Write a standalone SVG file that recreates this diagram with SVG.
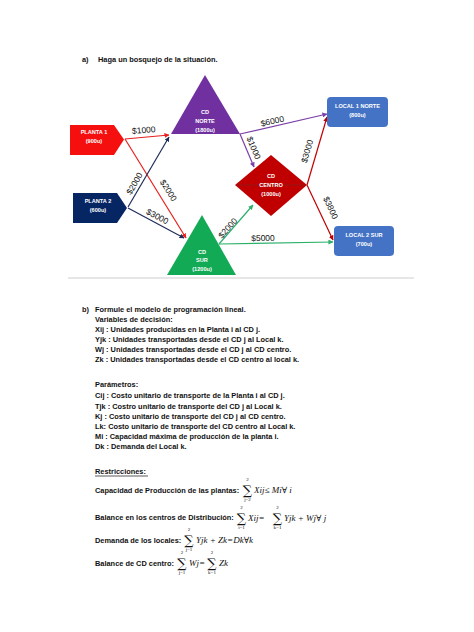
<svg xmlns="http://www.w3.org/2000/svg" width="474" height="632" viewBox="0 0 474 632">
<defs>
<style>
.t{font-family:"Liberation Sans",Arial,sans-serif;font-weight:bold;font-size:7.4px;fill:#111}
.n{font-family:"Liberation Sans",Arial,sans-serif;font-weight:bold;font-size:5.6px;fill:#fff;text-anchor:middle}
.lb{font-family:"Liberation Sans",Arial,sans-serif;font-size:8.5px;fill:#111;text-anchor:middle}
.m{font-family:"Liberation Serif","DejaVu Serif",serif;font-style:italic;font-size:9px;fill:#111}
.s{font-family:"DejaVu Serif","Liberation Serif",serif;font-size:13px;fill:#111;text-anchor:middle}
.sm{font-family:"Liberation Serif",serif;font-size:5px;fill:#111;text-anchor:middle}
.c{fill:none;stroke-width:1.2}
</style>
<marker id="aR" viewBox="0 0 6 6" refX="5.5" refY="3" markerWidth="5" markerHeight="5" markerUnits="userSpaceOnUse" orient="auto"><path d="M0,0L6,3L0,6z" fill="#E8201F"/></marker>
<marker id="aN" viewBox="0 0 6 6" refX="5.5" refY="3" markerWidth="5" markerHeight="5" markerUnits="userSpaceOnUse" orient="auto"><path d="M0,0L6,3L0,6z" fill="#1F2D5A"/></marker>
<marker id="aP" viewBox="0 0 6 6" refX="5.5" refY="3" markerWidth="5" markerHeight="5" markerUnits="userSpaceOnUse" orient="auto"><path d="M0,0L6,3L0,6z" fill="#7B3FA8"/></marker>
<marker id="aC" viewBox="0 0 6 6" refX="5.5" refY="3" markerWidth="5" markerHeight="5" markerUnits="userSpaceOnUse" orient="auto"><path d="M0,0L6,3L0,6z" fill="#C00000"/></marker>
<marker id="aG" viewBox="0 0 6 6" refX="5.5" refY="3" markerWidth="5" markerHeight="5" markerUnits="userSpaceOnUse" orient="auto"><path d="M0,0L6,3L0,6z" fill="#2DB06A"/></marker>
</defs>
<rect width="474" height="632" fill="#fff"/>

<text class="t" x="82" y="61.5">a)</text>
<text class="t" x="98" y="61.5">Haga un bosquejo de la situación.</text>

<rect x="68" y="277" width="346" height="2" fill="#e6e6e6"/>

<g id="connectors">
<line class="c" stroke="#E8201F" x1="125" y1="139" x2="169" y2="135" marker-end="url(#aR)"/>
<line class="c" stroke="#E8201F" x1="125" y1="139" x2="186" y2="238" marker-end="url(#aR)"/>
<line class="c" stroke="#1F2D5A" x1="128" y1="207" x2="169" y2="137" marker-end="url(#aN)"/>
<line class="c" stroke="#1F2D5A" x1="128" y1="208" x2="184" y2="238" marker-end="url(#aN)"/>
<line class="c" stroke="#7B3FA8" x1="240" y1="134" x2="327" y2="114" marker-end="url(#aP)"/>
<line class="c" stroke="#7B3FA8" x1="240" y1="134" x2="254" y2="167" marker-end="url(#aP)"/>
<line class="c" stroke="#C00000" x1="307" y1="185" x2="327" y2="117" marker-end="url(#aC)"/>
<line class="c" stroke="#C00000" x1="307" y1="185" x2="333" y2="240" marker-end="url(#aC)"/>
<line class="c" stroke="#2DB06A" x1="219" y1="244" x2="253" y2="205" marker-end="url(#aG)"/>
<line class="c" stroke="#2DB06A" x1="219" y1="244" x2="333" y2="242" marker-end="url(#aG)"/>
<text class="lb" transform="translate(144,133) rotate(-5)">$1000</text>
<text class="lb" transform="translate(166,192) rotate(57)">$2000</text>
<text class="lb" transform="translate(137,185) rotate(-60)">$2000</text>
<text class="lb" transform="translate(156,219) rotate(28)">$3000</text>
<text class="lb" transform="translate(273,124) rotate(-13)">$6000</text>
<text class="lb" transform="translate(251,149) rotate(68)">$1000</text>
<text class="lb" transform="translate(310,152) rotate(-74)">$3000</text>
<text class="lb" transform="translate(328,209) rotate(65)">$3800</text>
<text class="lb" transform="translate(230,230) rotate(-49)">$2000</text>
<text class="lb" transform="translate(263,241) rotate(-1)">$5000</text>
</g>

<g id="planta1">
<path d="M70,125L114,125L124,139.5L114,155L70,155Z" fill="#F50F0F"/>
<text class="n" x="94" y="134">PLANTA 1</text>
<text class="n" x="94" y="143">(900u)</text>
</g>
<g id="planta2">
<path d="M73,193L117,193L127,208L117,223L73,223Z" fill="#062563"/>
<text class="n" x="98" y="203">PLANTA 2</text>
<text class="n" x="98" y="212">(600u)</text>
</g>
<g id="cdnorte">
<path d="M205,75L240,134L171,134Z" fill="#7030A0"/>
<text class="n" x="205" y="114">CD</text>
<text class="n" x="205" y="123">NORTE</text>
<text class="n" x="205" y="132">(1800u)</text>
</g>
<g id="cdsur">
<path d="M202,215L236,275L167,275Z" fill="#12AA55"/>
<text class="n" x="202" y="254">CD</text>
<text class="n" x="202" y="262">SUR</text>
<text class="n" x="202" y="271">(1200u)</text>
</g>
<g id="cdcentro">
<path d="M271,155L307,185L271,216L235,185Z" fill="#C00000"/>
<line x1="236" y1="185" x2="306" y2="185" stroke="#7a2a2a" stroke-width="0.8" opacity="0.7"/>
<text class="n" x="271" y="178">CD</text>
<text class="n" x="271" y="187">CENTRO</text>
<text class="n" x="271" y="196">(1000u)</text>
</g>
<g id="local1">
<rect x="327" y="97" width="61" height="30" rx="4" fill="#4472C4"/>
<text class="n" x="357.5" y="108">LOCAL 1 NORTE</text>
<text class="n" x="357.5" y="116.5">(800u)</text>
</g>
<g id="local2">
<rect x="334" y="226" width="60" height="30" rx="4" fill="#4472C4"/>
<text class="n" x="364" y="237">LOCAL 2 SUR</text>
<text class="n" x="364" y="245.5">(700u)</text>
</g>

<text class="t" x="82" y="312">b)</text>
<text class="t" x="95" y="312">Formule el modelo de programación lineal.</text>
<text class="t" x="95" y="322">Variables de decisión:</text>
<text class="t" x="95" y="332">Xij : Unidades producidas en la Planta i al CD j.</text>
<text class="t" x="95" y="342">Yjk : Unidades transportadas desde el CD j al Local k.</text>
<text class="t" x="95" y="352">Wj : Unidades transportadas desde el CD j al CD centro.</text>
<text class="t" x="95" y="362">Zk : Unidades transportadas desde el CD centro al local k.</text>
<text class="t" x="95" y="387">Parámetros:</text>
<text class="t" x="95" y="398">Cij : Costo unitario de transporte de la Planta i al CD j.</text>
<text class="t" x="95" y="409">Tjk : Costro unitario de transporte del CD j al Local k.</text>
<text class="t" x="95" y="419">Kj : Costo unitario de transporte del CD j al CD centro.</text>
<text class="t" x="95" y="429">Lk: Costo unitario de transporte del CD centro al Local k.</text>
<text class="t" x="95" y="439">Mi : Capacidad máxima de producción de la planta i.</text>
<text class="t" x="95" y="449">Dk : Demanda del Local k.</text>

<text class="t" x="95" y="474">Restricciones:</text>
<line x1="95" y1="476" x2="148" y2="476" stroke="#111" stroke-width="0.7"/>

<text class="t" x="95" y="492.5">Capacidad de Producción de las plantas:</text>
<text class="s" x="247.5" y="495">∑</text>
<text class="sm" x="247.5" y="481">2</text>
<text class="sm" x="247.5" y="501">j=2</text>
<text class="m" x="254" y="493">Xij≤ Mi∀ i</text>

<text class="t" x="95" y="520">Balance en los centros de Distribución:</text>
<text class="s" x="241.5" y="522.5">∑</text>
<text class="sm" x="241.5" y="508.5">2</text>
<text class="sm" x="241.5" y="528.5">i=1</text>
<text class="m" x="248" y="520.5">Xij=</text>
<text class="s" x="277.5" y="522.5">∑</text>
<text class="sm" x="277.5" y="508.5">2</text>
<text class="sm" x="277.5" y="528.5">k=1</text>
<text class="m" x="284" y="520.5">Yjk + Wj∀ j</text>

<text class="t" x="95" y="542.5">Demanda de los locales:</text>
<text class="s" x="189" y="545">∑</text>
<text class="sm" x="189" y="531">2</text>
<text class="sm" x="189" y="551">j=1</text>
<text class="m" x="196" y="543">Yjk + Zk=Dk∀k</text>

<text class="t" x="95" y="565.5">Balance de CD centro:</text>
<text class="s" x="182" y="568">∑</text>
<text class="sm" x="182" y="554">2</text>
<text class="sm" x="182" y="574">j=1</text>
<text class="m" x="189" y="566">Wj=</text>
<text class="s" x="212" y="568">∑</text>
<text class="sm" x="212" y="554">2</text>
<text class="sm" x="212" y="574">k=1</text>
<text class="m" x="219" y="566">Zk</text>
</svg>
